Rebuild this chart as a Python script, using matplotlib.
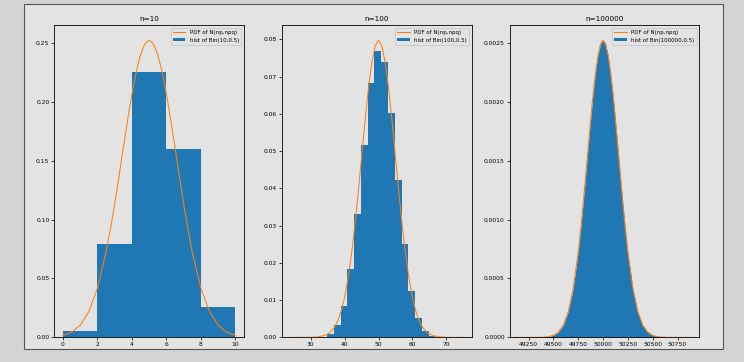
import matplotlib
matplotlib.use("Agg")
import matplotlib.pyplot as plt
from matplotlib.patches import Rectangle

titles = ["n=10", "n=100", "n=100000"]
hist_labels = ["hist of Bin(10,0.5)", "hist of Bin(100,0.5)", "hist of Bin(100000,0.5)"]
pdf_label = "PDF of N(np,npq)"

# n=10 : bar edges and densities
edges_10 = [0, 2, 4, 6, 8, 10]
dens_10 = [0.005, 0.079, 0.225, 0.160, 0.026]
pdf_x_10 = [0, 0.5, 1, 1.5, 2, 2.5, 2.75, 3, 3.25, 3.5, 3.75, 4, 4.25, 4.5, 4.75, 5,
            5.25, 5.5, 5.75, 6, 6.25, 6.5, 6.75, 7, 7.25, 7.5, 8, 8.5, 9, 9.5, 10]
pdf_y_10 = [0.0017, 0.0044, 0.0103, 0.0218, 0.0417, 0.0723, 0.0917, 0.1134, 0.1368,
            0.1609, 0.1846, 0.2066, 0.2255, 0.2400, 0.2492, 0.2523, 0.2492, 0.2400,
            0.2255, 0.2066, 0.1846, 0.1609, 0.1368, 0.1134, 0.0917, 0.0723, 0.0417,
            0.0218, 0.0103, 0.0044, 0.0017]

# n=100
edges_100 = [34.8, 36.8, 38.8, 40.8, 42.8, 44.8, 46.8, 48.8, 50.8, 52.8, 54.8,
             56.8, 58.8, 60.8, 62.8, 64.8, 66.8]
dens_100 = [0.0010, 0.0033, 0.0084, 0.0183, 0.0332, 0.0516, 0.0682, 0.0768,
            0.0739, 0.0603, 0.0422, 0.0250, 0.0125, 0.0051, 0.0016, 0.0004]
pdf_x_100 = [24, 26, 28, 30, 32, 34, 35, 36, 37, 38, 39, 40, 41, 42, 43, 44, 45, 46,
             47, 48, 49, 50, 51, 52, 53, 54, 55, 56, 57, 58, 59, 60, 61, 62, 63, 64,
             65, 66, 68, 70, 72, 74, 76]
pdf_y_100 = [0.0, 0.0, 0.000004, 0.00003, 0.00012, 0.00048, 0.00089, 0.00158,
             0.00272, 0.00448, 0.00709, 0.01080, 0.01579, 0.02218, 0.02995, 0.03884,
             0.04839, 0.05794, 0.06665, 0.07365, 0.07821, 0.07979, 0.07821, 0.07365,
             0.06665, 0.05794, 0.04839, 0.03884, 0.02995, 0.02218, 0.01579, 0.01080,
             0.00709, 0.00448, 0.00272, 0.00158, 0.00089, 0.00048, 0.00012, 0.00003,
             0.000004, 0.0, 0.0]

# n=100000 : histogram is so fine it reads as a filled curve
x_big = [49100, 49200, 49300, 49350, 49400, 49450, 49500, 49550, 49600, 49650, 49700,
         49750, 49775, 49800, 49825, 49850, 49875, 49900, 49925, 49950, 49975, 50000,
         50025, 50050, 50075, 50100, 50125, 50150, 50175, 50200, 50225, 50250,
         50300, 50350, 50400, 50450, 50500, 50550, 50600, 50650, 50700, 50800, 50900]
y_big = [0.0, 0.0, 0.0000001, 0.0000005, 0.0000019, 0.0000060, 0.0000170, 0.0000440,
         0.000103, 0.000218, 0.000417,
         0.000723, 0.000917, 0.001134, 0.001368, 0.001609, 0.001846, 0.002066,
         0.002255, 0.002400, 0.002492, 0.002523, 0.002492, 0.002400, 0.002255,
         0.002066, 0.001846, 0.001609, 0.001368, 0.001134, 0.000917, 0.000723,
         0.000417, 0.000218, 0.000103, 0.0000440, 0.0000170, 0.0000060, 0.0000019,
         0.0000005, 0.0000001, 0.0, 0.0]

xlims = [(-0.5, 10.5), (21.5, 77.5), (49060, 50970)]
xticks = [[0, 2, 4, 6, 8, 10], [30, 40, 50, 60, 70],
          [49250, 49500, 49750, 50000, 50250, 50500, 50750]]

blue = "#1f77b4"
orange = "#ff7f0e"
bg = "#e3e3e3"

fig = plt.figure(figsize=(7.44, 3.62), dpi=100, facecolor="#d4d4d4")
fig.add_artist(Rectangle((0.032, 0.035), 0.94, 0.955, transform=fig.transFigure,
                         facecolor=bg, edgecolor="#555555", lw=0.8, zorder=0))
axes = fig.subplots(1, 3)
fig.subplots_adjust(left=0.073, right=0.94, bottom=0.068, top=0.93, wspace=0.2)

handles = []

_, _, bars = axes[0].hist(edges_10[:-1], bins=edges_10, weights=dens_10, color=blue)
line, = axes[0].plot(pdf_x_10, pdf_y_10, color=orange, lw=0.75)
handles.append([line, bars[0]])

_, _, bars = axes[1].hist(edges_100[:-1], bins=edges_100, weights=dens_100, color=blue)
line, = axes[1].plot(pdf_x_100, pdf_y_100, color=orange, lw=0.75)
handles.append([line, bars[0]])

area = axes[2].fill_between(x_big, y_big, color=blue, lw=0)
line, = axes[2].plot(x_big, y_big, color=orange, lw=0.75)
handles.append([line, area])

tops = [max(pdf_y_10) * 1.05, max(pdf_y_100) * 1.05, max(y_big) * 1.05]

for ax, t, xl, xt, top, h, hl in zip(axes, titles, xlims, xticks, tops, handles,
                                     hist_labels):
    ax.set_facecolor(bg)
    ax.set_xlim(xl)
    ax.set_ylim(0, top)
    ax.set_xticks(xt)
    ax.ticklabel_format(axis="x", useOffset=False, style="plain")
    ax.set_title(t, fontsize=5.2, pad=3)
    ax.tick_params(labelsize=4.3, length=2, width=0.5, pad=1.5)
    for s in ax.spines.values():
        s.set_linewidth(0.6)
    leg = ax.legend(h, [pdf_label, hl], loc="upper right", fontsize=4, frameon=True,
                    borderpad=0.4, handlelength=2.2, handleheight=0.6,
                    labelspacing=0.4)
    leg.get_frame().set_facecolor(bg)
    leg.get_frame().set_edgecolor("#bbbbbb")
    leg.get_frame().set_linewidth(0.5)

fig.savefig("out.png", dpi=100, facecolor=fig.get_facecolor())
